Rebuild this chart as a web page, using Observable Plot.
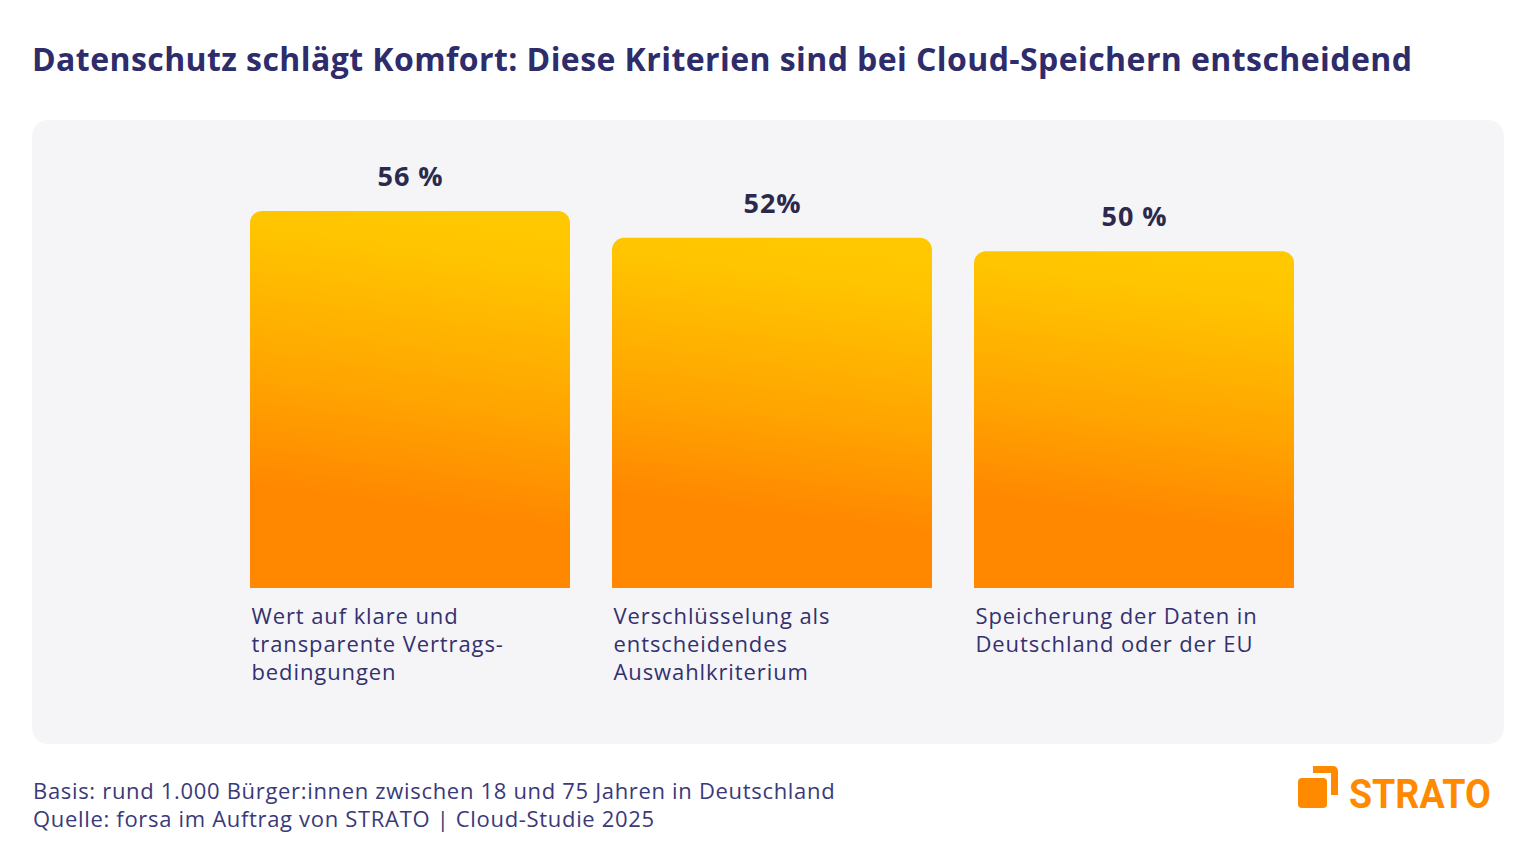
<!DOCTYPE html>
<html lang="de">
<head>
<meta charset="utf-8">
<script src="https://cdn.jsdelivr.net/npm/d3@7"></script>
<script src="https://cdn.jsdelivr.net/npm/@observablehq/plot@0.6"></script>
<style>
  html, body { margin: 0; padding: 0; background: #ffffff; }
  body { width: 1536px; height: 864px; position: relative; overflow: hidden; font-family: "Open Sans", "Noto Sans", sans-serif; }
  #title { position: absolute; left: 32px; top: 37px; font-size: 32px; font-weight: 700; color: #2e2c6b; white-space: nowrap; letter-spacing: 0.42px; }
  #panel { position: absolute; left: 32px; top: 120px; width: 1472px; height: 624px; background: #f5f5f8; border-radius: 16px; }
  #chart { position: absolute; left: 0; top: 120px; }
  #footer { position: absolute; left: 33px; top: 776px; font-size: 22px; line-height: 28px; color: #3a397a; white-space: nowrap; letter-spacing: 0.68px; }
  #logo { position: absolute; left: 1290px; top: 760px; }
</style>
</head>
<body>
<div id="title">Datenschutz schlägt Komfort: Diese Kriterien sind bei Cloud-Speichern entscheidend</div>
<div id="panel"></div>
<div id="chart"></div>
<div id="footer">
  <div>Basis: rund 1.000 Bürger:innen zwischen 18 und 75 Jahren in Deutschland</div>
  <div>Quelle: forsa im Auftrag von STRATO | Cloud-Studie 2025</div>
</div>
<svg id="logo" width="220" height="60" viewBox="0 0 220 60">
  <rect x="8" y="18" width="29" height="30" rx="4" fill="#ff8a00"/>
  <path d="M23 6 H43 a5 5 0 0 1 5 5 V35 H41 V13 H23 Z" fill="#ff8a00"/>
  <text x="59" y="48" font-family="Roboto, 'DejaVu Sans', sans-serif" font-weight="700" font-size="41" fill="#ff8a00" textLength="142" lengthAdjust="spacingAndGlyphs">STRATO</text>
</svg>
<script>
// ---- data ----
const categories = [
  "Wert auf klare und\ntransparente Vertrags-\nbedingungen",
  "Verschlüsselung als\nentscheidendes\nAuswahlkriterium",
  "Speicherung der Daten in\nDeutschland oder der EU"
];
const values = [56, 52, 50];
const valueLabels = ["56 %", "52%", "50 %"];

const data = categories.map((c, i) => ({cat: c, value: values[i], label: valueLabels[i]}));

const defs = () => {
  const d = d3.create("svg:defs");
  const g = d.append("linearGradient")
    .attr("id", "barGrad")
    .attr("x1", 0.56).attr("y1", 0).attr("x2", 0.44).attr("y2", 1);
  g.append("stop").attr("offset", 0).attr("stop-color", "#ffc800");
  g.append("stop").attr("offset", 0.1).attr("stop-color", "#ffc500");
  g.append("stop").attr("offset", 0.5).attr("stop-color", "#ffa400");
  g.append("stop").attr("offset", 0.78).attr("stop-color", "#ff8800");
  g.append("stop").attr("offset", 1).attr("stop-color", "#ff8800");
  return d.node();
};

const chart = Plot.plot({
  width: 1536,
  height: 624,
  marginTop: 0, marginBottom: 0, marginLeft: 0, marginRight: 0,
  style: {background: "transparent", fontFamily: "'Open Sans', 'Noto Sans', sans-serif", overflow: "visible", letterSpacing: "0.9px"},
  x: {type: "band", domain: categories, range: [249, 1294], paddingInner: 0.1172, paddingOuter: 0, axis: null},
  y: {domain: [0, 60], range: [468, 64], axis: null},
  marks: [
    defs,
    Plot.barY(data, {x: "cat", y: "value", fill: "url(#barGrad)", rx: 12}),
    Plot.barY(data, {x: "cat", y1: 0, y2: 2, fill: "#ff8800"}),
    Plot.text(data, {x: "cat", y: "value", text: "label", dy: -34, fontSize: 27, fontWeight: 700, fill: "#2b2a4c"}),
    Plot.text(data, {x: "cat", y: 0, text: "cat", textAnchor: "start", lineAnchor: "top", dx: -159, dy: 16, fontSize: 22, lineHeight: 1.27, fill: "#33316e"})
  ]
});
document.getElementById("chart").appendChild(chart);
</script>
</body>
</html>
